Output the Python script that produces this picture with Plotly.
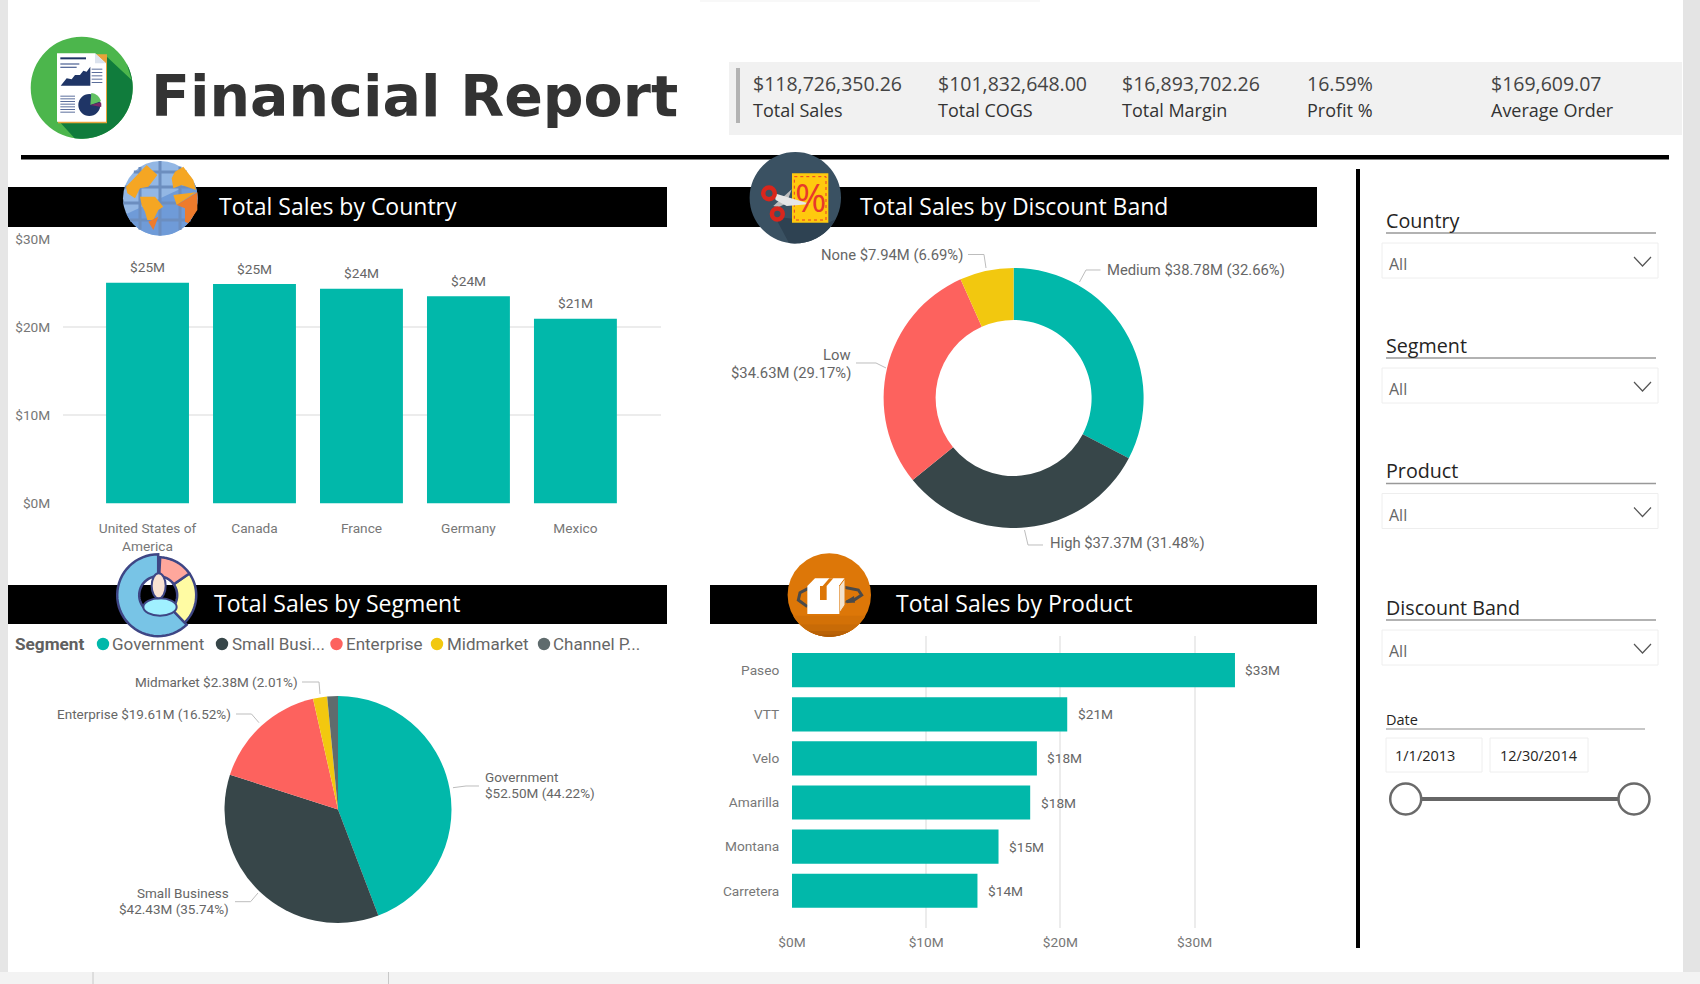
import math
import plotly.graph_objects as go

# ---------- data ----------
countries = ["United States of<br>America", "Canada", "France", "Germany", "Mexico"]
country_sales = [25.03, 24.89, 24.35, 23.51, 20.95]
products = ["Paseo", "VTT", "Velo", "Amarilla", "Montana", "Carretera"]
product_sales = [33.01, 20.51, 18.25, 17.75, 15.39, 13.82]
bands = ["Medium", "High", "Low", "None"]
band_sales = [38.78, 37.37, 34.63, 7.94]
band_pct = [32.66, 31.48, 29.17, 6.69]
segments = ["Government", "Small Business", "Enterprise", "Midmarket", "Channel Partners"]
segment_sales = [52.50, 42.43, 19.61, 2.38, 1.81]
segment_pct = [44.22, 35.74, 16.52, 2.01, 1.52]
legend_labels = ["Government", "Small Busi...", "Enterprise", "Midmarket", "Channel P..."]
kpi_values = ["$118,726,350.26", "$101,832,648.00", "$16,893,702.26", "16.59%", "$169,609.07"]
kpi_labels = ["Total Sales", "Total COGS", "Total Margin", "Profit %", "Average Order"]
slicers = ["Country", "Segment", "Product", "Discount Band"]
date_range = ["1/1/2013", "12/30/2014"]
usd_ticks = [0, 10, 20, 30]
usd_tick_text = ["$0M", "$10M", "$20M", "$30M"]

TEAL, DARK, RED, YEL, GREY = "#01B8AA", "#374649", "#FD625E", "#F2C80F", "#5F6B6D"
W, H = 1700, 984
UI = "Open Sans"
CH = "Roboto"
fx = lambda p: p / W
fy = lambda p: 1 - p / H

shapes, notes = [], []

def rect(x0, y0, x1, y1, fill="rgba(0,0,0,0)", line=None, lw=0):
    shapes.append(dict(type="rect", xref="paper", yref="paper", x0=fx(x0), x1=fx(x1), y0=fy(y0), y1=fy(y1),
                       fillcolor=fill, line=dict(color=line or "rgba(0,0,0,0)", width=lw)))

def circ(cx, cy, r, fill="rgba(0,0,0,0)", line=None, lw=0):
    shapes.append(dict(type="circle", xref="paper", yref="paper", x0=fx(cx - r), x1=fx(cx + r),
                       y0=fy(cy - r), y1=fy(cy + r), fillcolor=fill,
                       line=dict(color=line or "rgba(0,0,0,0)", width=lw)))

def poly(pts, fill=None, line=None, lw=0, closed=True, dash=None):
    d = "M" + " L".join(f"{fx(x):.5f},{fy(y):.5f}" for x, y in pts) + (" Z" if closed else "")
    ln = dict(color=line or "rgba(0,0,0,0)", width=lw)
    if dash:
        ln["dash"] = dash
    shapes.append(dict(type="path", xref="paper", yref="paper", path=d,
                       fillcolor=fill if fill else "rgba(0,0,0,0)", line=ln))

def text(x, y, s, size, color, family=UI, anchor="left", bold=False, valign="middle"):
    notes.append(dict(xref="paper", yref="paper", x=fx(x), y=fy(y), text=f"<b>{s}</b>" if bold else s,
                      showarrow=False, xanchor=anchor, yanchor=valign,
                      font=dict(size=size, color=color, family=family), align=anchor, borderpad=0, borderwidth=0))

def arc(cx, cy, r, a0, a1, n=40):
    """points on a circle; angles in degrees clockwise from 12 o'clock"""
    return [(cx + r * math.sin(math.radians(a0 + (a1 - a0) * i / n)),
             cy - r * math.cos(math.radians(a0 + (a1 - a0) * i / n))) for i in range(n + 1)]

def zoomed(ox, oy):
    return lambda pts: [(ox + x / 3, oy + y / 3) for x, y in pts]

def chord_h(cx, cy, r, y):
    d = math.sqrt(max(r * r - (y - cy) ** 2, 0))
    return [(cx - d, y), (cx + d, y)]

def chord_v(cx, cy, r, x):
    d = math.sqrt(max(r * r - (x - cx) ** 2, 0))
    return [(x, cy - d), (x, cy + d)]

# ---------- page frame ----------
rect(0, 0, 8, 972, "#e6e6e6")
rect(1683, 0, 1700, 972, "#e4e4e4")
rect(0, 972, 1700, 984, "#f3f3f3")
for x in (93, 388.5):
    poly([(x, 972), (x, 984)], line="#c8c8c8", lw=1, closed=False)
rect(700, 0, 1040, 2, "#f8f8f8")

# header
text(151, 95.5, "Financial Report", 57, "#333333", family="DejaVu Sans", bold=True)
rect(729, 62, 1682, 135, "#f1f1f1")
rect(736, 68, 740, 123, "#b3b3b3")
for x, v, l in zip((753, 938, 1122, 1306.5, 1491), kpi_values, kpi_labels):
    text(x, 83, v, 19.5, "#444444")
    text(x, 110, l, 18, "#333333")
rect(21, 155, 1669, 159.5, "#000000")
rect(1356, 169, 1360, 948, "#000000")

# section bands
band_boxes = [(8, 667, 187, 227, "Total Sales by Country", 219),
              (710, 1317, 187, 227, "Total Sales by Discount Band", 860),
              (8, 667, 585, 624, "Total Sales by Segment", 214),
              (710, 1317, 585, 624, "Total Sales by Product", 895.5)]
for x0, x1, y0, y1, t, tx in band_boxes:
    rect(x0, y0, x1, y1, "#000000")
    text(tx, (y0 + y1) / 2 - 1.5, t, 23, "#ffffff")

# ---------- report icon ----------
z = zoomed(20, 30)
circ(81.7, 87.7, 51, "#4CB64C")
poly(z([(258, 78), (335, 150)]) + arc(81.7, 87.7, 51, 62, 188) + z([(120, 277)]), "#107C3C")
poly(z([(114, 73), (261, 73), (261, 280), (114, 280)]), "#E8A33A")
poly(z([(111, 70), (225, 70), (258, 100), (258, 275), (111, 275)]), "#ffffff")
poly(z([(225, 70), (258, 100), (225, 100)]), "#DCE3EE")
rect(*z([(121, 82)])[0], *z([(198, 88)])[0], "#1F3566")
rect(*z([(121, 100)])[0], *z([(178, 104)])[0], "#5B6E9C")
rect(*z([(121, 110)])[0], *z([(170, 114)])[0], "#5B6E9C")
poly(z([(122, 167), (140, 145), (155, 148), (165, 135), (180, 135), (190, 122), (200, 125), (211, 110), (211, 167)]), "#1F3566")
for y in (116, 126, 136, 146, 156):
    rect(*z([(215, y)])[0], *z([(247, y + 3)])[0], "#5B6E9C")
for y in (197, 205, 213, 221, 229, 237, 245):
    rect(*z([(121, y)])[0], *z([(165, y + 3)])[0], "#5B6E9C")
pc = z([(208, 225)])[0]
circ(pc[0], pc[1], 11, "#1F3566")
poly([(pc[0] + 1, pc[1])] + arc(pc[0] + 1, pc[1] - 1, 11, 5, 75, 10), "#62C162")
poly([(pc[0] + 1, pc[1])] + arc(pc[0] + 1, pc[1], 11, 75, 100, 6), "#7A2A66")

# ---------- globe icon ----------
z = zoomed(110, 155)
gx, gy, gr = 160.3, 198.3, 37.3
circ(gx, gy, gr, "#93B7E4")
poly(arc(gx, gy, gr, 65, 245), "#6F9BD8")
for y in (172, 187, 203, 220):
    poly(chord_h(gx, gy, gr, y), line="#6C8EBF", lw=3, closed=False)
for x in (140, 160, 180):
    poly(chord_v(gx, gy, gr, x), line="#6C8EBF", lw=3, closed=False)
poly(z([(48, 95), (110, 30), (142, 60), (115, 95), (90, 100), (75, 130), (52, 115)]), "#F5A623")
poly(z([(90, 125), (135, 125), (160, 155), (145, 165), (130, 195), (112, 195), (105, 170), (95, 150)]), "#F5A623")
poly(z([(195, 50), (220, 35), (250, 75), (258, 105), (215, 90), (190, 100), (185, 70)]), "#F5A623")
poly(z([(190, 120), (258, 112), (200, 150)]), "#F5A623")
poly(z([(200, 150), (262, 112), (262, 165), (235, 205), (225, 200), (225, 160)]), "#EE7B2C")
poly(z([(115, 200), (145, 185), (130, 225)]), "#EE7B2C")

# ---------- discount icon ----------
z = zoomed(745, 150)
circ(795.3, 197.7, 45.7, "#3A5162")
poly(z([(250, 218)]) + arc(795.3, 197.7, 45.7, 118, 188, 20) + z([(90, 200)]), "#2E4252")
poly(z([(141, 70), (250, 70), (250, 218), (141, 218)]), "#FFC90E")
poly(z([(148, 80), (243, 80), (243, 210), (148, 210)]), line="#E8392B", lw=1, dash="dot")
text(810, 197, "%", 38, "#E8392B")
notes[-1]["xanchor"] = "center"
poly(z([(85, 168), (140, 118), (125, 160), (100, 172)]), "#BDBDBD")
poly(z([(88, 130), (197, 162), (125, 168), (92, 150)]), "#E6E6E6")
circ(*z([(72, 130)])[0], 5.8, "#3A5162", "#D8261C", 4.5)
circ(*z([(97, 192)])[0], 5.4, "#3A5162", "#D8261C", 4.5)

# ---------- segment icon ----------
z = zoomed(105, 545)
sx, sy = 158.2, 595.2
NAVY = "#3E4685"
def sector(a0, a1, r1, r2, fill):
    poly(arc(sx, sy, r1, a0, a1) + arc(sx, sy, r2, a1, a0), fill, NAVY, 2.5)
sector(136, 360, 41, 19, "#78C4E6")
sector(55, 136, 38, 19, "#FFFBA3")
sector(3, 55, 38, 19, "#FFA79C")
shapes.append(dict(type="circle", xref="paper", yref="paper",
                   x0=fx(z([(115, 0)])[0][0]), x1=fx(z([(215, 0)])[0][0]),
                   y0=fy(z([(0, 160)])[0][1]), y1=fy(z([(0, 212)])[0][1]),
                   fillcolor="#A0F0FF", line=dict(color=NAVY, width=2)))
shapes.append(dict(type="circle", xref="paper", yref="paper",
                   x0=fx(z([(140, 0)])[0][0]), x1=fx(z([(182, 0)])[0][0]),
                   y0=fy(z([(0, 85)])[0][1]), y1=fy(z([(0, 160)])[0][1]),
                   fillcolor="#F9E2D2", line=dict(color=NAVY, width=2)))

# ---------- product icon ----------
z = zoomed(780, 550)
cx, cy, r = 829.3, 595, 41.7
circ(cx, cy, r, "#DD7708")
for a, col in ((60, "#D37107"), (45, "#C86B07"), (30, "#BA6206"), (18, "#AD5A05")):
    poly(arc(cx, cy, r, 180 - a, 180 + a, 24), col)
poly(z([(82, 170), (55, 150), (60, 128), (85, 115)]), line="#4A4A4A", lw=3, closed=False)
poly(z([(192, 112), (235, 120), (245, 135), (222, 150), (200, 155)]), line="#4A4A4A", lw=3, closed=False)
poly(z([(188, 158), (222, 138), (225, 158)]), "#4A4A4A")
poly(z([(82, 108), (105, 85), (195, 85), (178, 108)]), "#ffffff")
poly(z([(178, 108), (195, 85), (195, 165), (178, 190)]), "#F3E2CC", "#DD7708", 1)
poly(z([(82, 108), (178, 108), (178, 192), (82, 192)]), "#ffffff")
poly(z([(120, 108), (140, 108), (140, 150), (120, 150)]), "#DD7708")
poly(z([(128, 108), (148, 85), (160, 85), (140, 108)]), "#DD7708")

# ---------- slicers ----------
for name, line_y in zip(slicers, (233, 358, 483.5, 620)):
    text(1386, line_y - 13, name, 19.7, "#252423")
    poly([(1386, line_y), (1656, line_y)], line="#999999", lw=1.5, closed=False)
    rect(1382, line_y + 10, 1658, line_y + 45, "#ffffff", "#eeeeee", 1)
    text(1389, line_y + 31, "All", 16, "#666666")
    poly([(1634, line_y + 24), (1642.5, line_y + 33), (1651, line_y + 24)], line="#555555", lw=1.2, closed=False)

text(1386, 719, "Date", 14.5, "#252423")
poly([(1386, 729), (1645, 729)], line="#b5b5b5", lw=1.5, closed=False)
for (x0, x1), d, tx in zip(((1386, 1482), (1490, 1588)), date_range, (1395, 1500)):
    rect(x0, 738, x1, 772, "#ffffff", "#eeeeee", 1)
    text(tx, 755.5, d, 14.5, "#252423")
poly([(1405.7, 799), (1634, 799)], line="#666666", lw=4, closed=False)
circ(1405.7, 799, 15.5, "#ffffff", "#6a6a6a", 2.5)
circ(1634, 799, 15.5, "#ffffff", "#6a6a6a", 2.5)

# ---------- legend ----------
seg_colors = [TEAL, DARK, RED, YEL, GREY]
text(15, 644, "Segment", 17.2, "#606060", family=CH, bold=True)
for dot, tx, lab, col in zip((103, 222, 336.5, 437, 544), (112, 231.5, 346, 447, 553), legend_labels, seg_colors):
    circ(dot, 644, 6.2, col)
    text(tx, 644, lab, 17, "#666666", family=CH)

# ---------- pie / donut labels ----------
LBL = "#666666"
DL, PL = 14.8, 13.5
def leader(pts):
    poly(pts, line="#bdbdbd", lw=1, closed=False)

leader([(968, 254.5), (984, 254.5), (986, 268)])
text(963, 255, f"{bands[3]} ${band_sales[3]:.2f}M ({band_pct[3]:.2f}%)", DL, LBL, family=CH, anchor="right")
leader([(1100.5, 270), (1086, 270), (1079.5, 282)])
text(1107, 270, f"{bands[0]} ${band_sales[0]:.2f}M ({band_pct[0]:.2f}%)", DL, LBL, family=CH)
leader([(856, 363), (876, 363), (886, 368)])
text(851, 354.5, bands[2], DL, LBL, family=CH, anchor="right")
text(851, 373, f"${band_sales[2]:.2f}M ({band_pct[2]:.2f}%)", DL, LBL, family=CH, anchor="right")
leader([(1043, 545), (1028, 545), (1024.5, 530)])
text(1049.5, 543, f"{bands[1]} ${band_sales[1]:.2f}M ({band_pct[1]:.2f}%)", DL, LBL, family=CH)

leader([(453, 787.7), (466, 786), (479, 786)])
text(485, 777, segments[0], PL, LBL, family=CH)
text(485, 793, f"${segment_sales[0]:.2f}M ({segment_pct[0]:.2f}%)", PL, LBL, family=CH)
leader([(235, 901.7), (250.6, 901.7), (258, 893)])
text(229, 893, segments[1], PL, LBL, family=CH, anchor="right")
text(229, 909, f"${segment_sales[1]:.2f}M ({segment_pct[1]:.2f}%)", PL, LBL, family=CH, anchor="right")
leader([(236, 714), (251.5, 714), (259, 722.7)])
text(231, 714, f"{segments[2]} ${segment_sales[2]:.2f}M ({segment_pct[2]:.2f}%)", PL, LBL, family=CH, anchor="right")
leader([(302, 682), (319, 682), (320, 694)])
text(297.5, 682, f"{segments[3]} ${segment_sales[3]:.2f}M ({segment_pct[3]:.2f}%)", PL, LBL, family=CH, anchor="right")

# ---------- figure ----------
fig = go.Figure()
fig.add_trace(go.Bar(x=countries, y=country_sales, marker=dict(color=TEAL, line=dict(width=0)),
                     xaxis="x", yaxis="y", hoverinfo="x+y", showlegend=False))
fig.add_trace(go.Bar(y=products, x=product_sales, orientation="h", marker=dict(color=TEAL, line=dict(width=0)),
                     xaxis="x2", yaxis="y2", hoverinfo="x+y", showlegend=False))
fig.add_trace(go.Pie(labels=bands, values=band_sales, hole=0.6, sort=False, direction="clockwise", rotation=0,
                     marker=dict(colors=[TEAL, DARK, RED, YEL], line=dict(width=0)), textinfo="none",
                     domain=dict(x=[fx(1013.6 - 130), fx(1013.6 + 130)], y=[fy(398 + 130), fy(398 - 130)]),
                     showlegend=False))
fig.add_trace(go.Pie(labels=segments, values=segment_sales, sort=False, direction="clockwise", rotation=0,
                     marker=dict(colors=seg_colors, line=dict(width=0)), textinfo="none",
                     domain=dict(x=[fx(338 - 113.5), fx(338 + 113.5)], y=[fy(809.5 + 113.5), fy(809.5 - 113.5)]),
                     showlegend=False))

for cat, v in zip(countries, country_sales):
    notes.append(dict(xref="x", yref="y", x=cat, y=v, yshift=15.5, yanchor="middle", xanchor="center", showarrow=False,
                      text=f"${round(v)}M", font=dict(size=13.7, color=LBL, family=CH)))
for cat, v in zip(products, product_sales):
    notes.append(dict(xref="x2", yref="y2", x=v, y=cat, xshift=8.5, xanchor="left", yanchor="middle", showarrow=False,
                      text=f"${round(v)}M", font=dict(size=13.7, color=LBL, family=CH)))

tick_font = dict(size=13.7, color="#777777", family=CH)
NONE = "rgba(0,0,0,0)"
fig.update_layout(
    template="none",
    width=W, height=H, margin=dict(l=0, r=0, t=0, b=0, pad=0), autosize=False,
    paper_bgcolor="#ffffff", plot_bgcolor="#ffffff", showlegend=False, bargap=0.225,
    shapes=shapes, annotations=notes,
    xaxis=dict(domain=[fx(63), fx(661)], range=[-0.79, 4.80], type="category", showgrid=False, zeroline=False,
               automargin=False, showline=False, tickfont=tick_font, ticks="outside", ticklen=12, tickcolor=NONE,
               anchor="y", fixedrange=True),
    yaxis=dict(domain=[fy(503.5), fy(239)], range=[0, 30], tickmode="array", tickvals=usd_ticks, ticktext=usd_tick_text,
               automargin=False, showgrid=True, gridcolor="#ececec", gridwidth=1.5, zeroline=False, showline=False,
               tickfont=tick_font, ticks="outside", ticklen=9, tickcolor=NONE, anchor="x", fixedrange=True),
    xaxis2=dict(domain=[fx(792), fx(1312)], range=[0, 38.75], tickmode="array", tickvals=usd_ticks, ticktext=usd_tick_text,
                automargin=False, showgrid=True, gridcolor="#ececec", gridwidth=1.5, zeroline=False, showline=False,
                tickfont=tick_font, ticks="outside", ticklen=2, tickcolor=NONE, anchor="y2", fixedrange=True),
    yaxis2=dict(domain=[fy(927.5), fy(635.5)], range=[5.834, -0.787], type="category", showgrid=False, zeroline=False,
                automargin=False, showline=False, tickfont=tick_font, ticks="outside", ticklen=9, tickcolor=NONE,
                anchor="x2", fixedrange=True),
)
fig.write_html("out.html", config=dict(displayModeBar=False),
               post_script="document.body.style.margin='0';document.body.style.overflow='hidden';")
